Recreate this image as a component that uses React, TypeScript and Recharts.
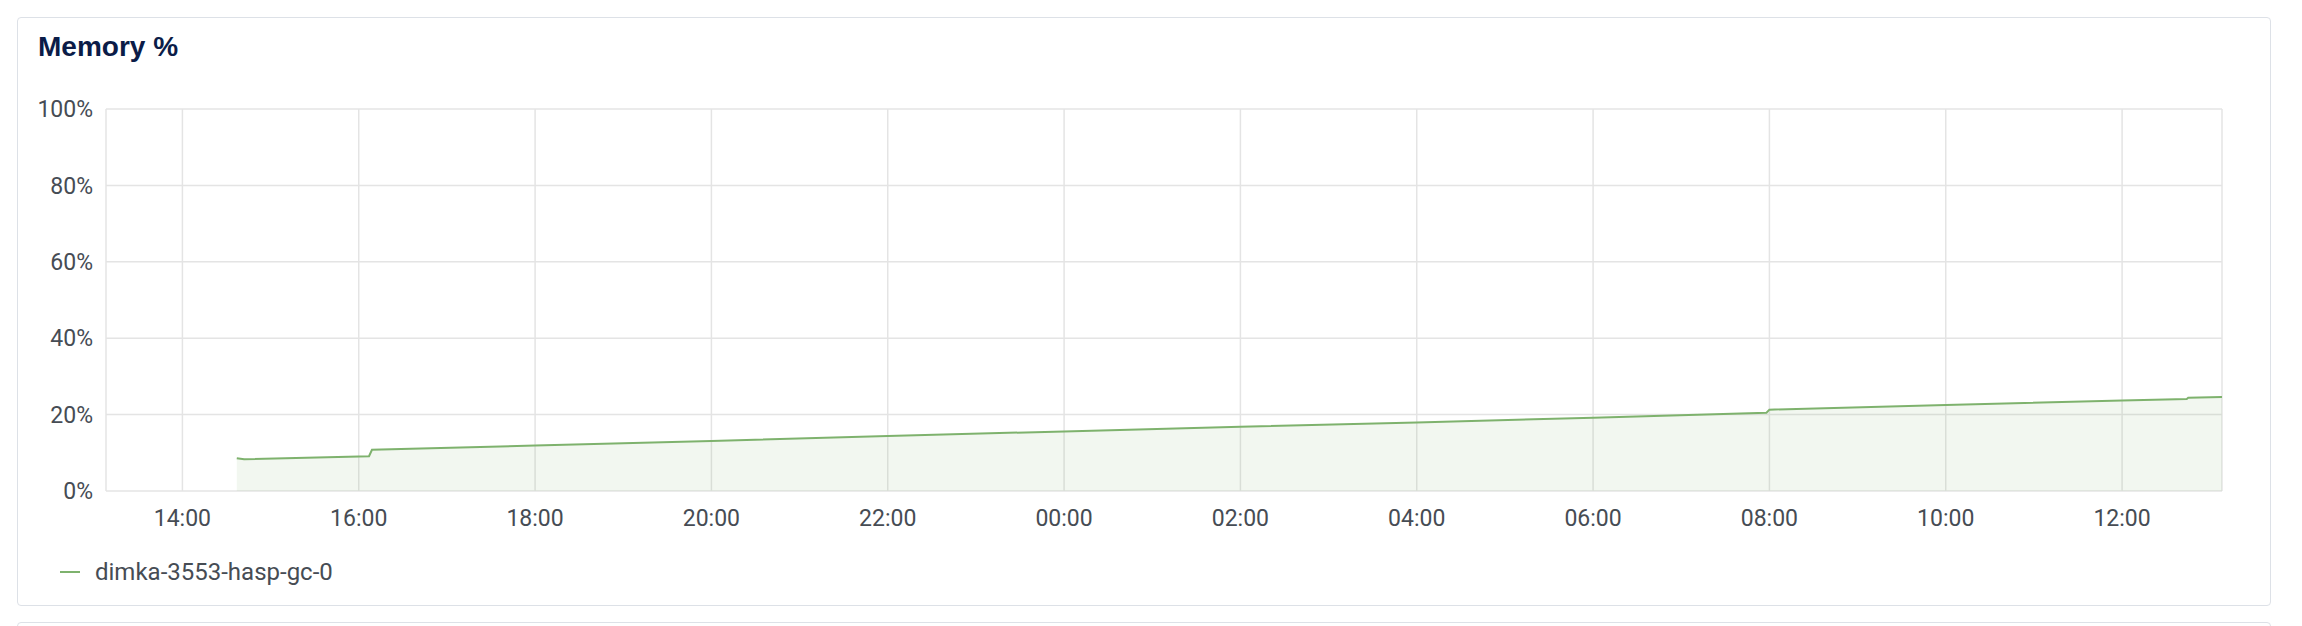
import { AreaChart, Area, XAxis, YAxis, CartesianGrid } from 'recharts';

const SERIES_NAME = 'dimka-3553-hasp-gc-0';

// sample times (HH:MM, rolling over midnight) and memory usage in %
const TIMES = [
  '14:37', '14:42', '16:07', '16:09', '18:00', '20:00', '22:00', '00:00', '02:00',
  '04:00', '06:00', '07:58', '08:00', '10:00', '12:00', '12:44', '12:45', '13:08',
];
const MEMORY_PCT = [
  8.6, 8.3, 9.1, 10.8, 11.9, 13.1, 14.4, 15.6, 16.8,
  17.9, 19.2, 20.5, 21.3, 22.5, 23.7, 24.1, 24.4, 24.6,
];

const RANGE_START = '13:08';
const X_TICK_LABELS = [
  '14:00', '16:00', '18:00', '20:00', '22:00', '00:00',
  '02:00', '04:00', '06:00', '08:00', '10:00', '12:00',
];
const Y_TICKS = [0, 20, 40, 60, 80, 100];

const toMin = (s: string) => {
  const [h, m] = s.split(':').map(Number);
  return h * 60 + m;
};

// turn clock strings into minutes on a continuous axis
const unroll = (list: string[], from: number) => {
  let day = 0;
  let prev = from;
  return list.map((s) => {
    let v = toMin(s) + day;
    if (v < prev) {
      day += 1440;
      v += 1440;
    }
    prev = v;
    return v;
  });
};

const start = toMin(RANGE_START);
const xTicks = unroll(X_TICK_LABELS, start);
const data = unroll(TIMES, start).map((t, i) => ({ t, value: MEMORY_PCT[i] }));

const fmtTime = (v: number) => {
  const h = Math.floor(v / 60) % 24;
  const m = Math.round(v % 60);
  return `${String(h).padStart(2, '0')}:${String(m).padStart(2, '0')}`;
};

const GREEN = '#7eb26d';
const TEXT = '#464c54';
const FONT = 'Roboto, "Noto Sans", sans-serif';

export default function App() {
  return (
    <div style={{ position: 'absolute', left: 0, top: 0, width: 2302, height: 626, background: '#fff', overflow: 'hidden' }}>
      <div
        style={{
          position: 'absolute',
          left: 17,
          top: 17,
          width: 2254,
          height: 589,
          border: '1.5px solid #dde1e7',
          borderRadius: 4,
          boxSizing: 'border-box',
        }}
      />
      <div
        style={{
          position: 'absolute',
          left: 17,
          top: 622,
          width: 2254,
          height: 20,
          border: '1.5px solid #dde1e7',
          borderRadius: 4,
          boxSizing: 'border-box',
        }}
      />
      <div
        style={{
          position: 'absolute',
          left: 38,
          top: 31,
          fontFamily: '"Liberation Sans", Arial, sans-serif',
          fontWeight: 700,
          fontSize: 28,
          color: '#0b1c48',
        }}
      >
        Memory %
      </div>
      <div style={{ position: 'absolute', left: 0, top: 0 }}>
        <AreaChart
          width={2302}
          height={626}
          data={data}
          margin={{ top: 109, right: 80, bottom: 0, left: 46 }}
        >
          <CartesianGrid stroke="#e4e4e4" strokeWidth={1.5} />
          <XAxis
            dataKey="t"
            type="number"
            domain={[start, start + 1440]}
            ticks={xTicks}
            tickFormatter={fmtTime}
            axisLine={false}
            tickLine={false}
            tickSize={0}
            tickMargin={19}
            height={135}
            allowDataOverflow
            tick={{ fill: TEXT, fontSize: 23, fontFamily: FONT }}
          />
          <YAxis
            domain={[0, 100]}
            ticks={Y_TICKS}
            tickFormatter={(v: number) => `${v}%`}
            axisLine={false}
            tickLine={false}
            tickSize={0}
            tickMargin={13}
            width={60}
            tick={{ fill: TEXT, fontSize: 23, fontFamily: FONT }}
          />
          <Area
            type="linear"
            dataKey="value"
            name={SERIES_NAME}
            stroke={GREEN}
            strokeWidth={2}
            fill={GREEN}
            fillOpacity={0.1}
            dot={false}
            activeDot={false}
            isAnimationActive={false}
          />
        </AreaChart>
      </div>
      <div
        style={{
          position: 'absolute',
          left: 60,
          top: 558,
          display: 'flex',
          alignItems: 'center',
          fontFamily: FONT,
          fontSize: 24,
          color: TEXT,
          lineHeight: '28px',
        }}
      >
        <span style={{ display: 'inline-block', width: 20, height: 2, background: GREEN, marginRight: 15 }} />
        {SERIES_NAME}
      </div>
    </div>
  );
}
